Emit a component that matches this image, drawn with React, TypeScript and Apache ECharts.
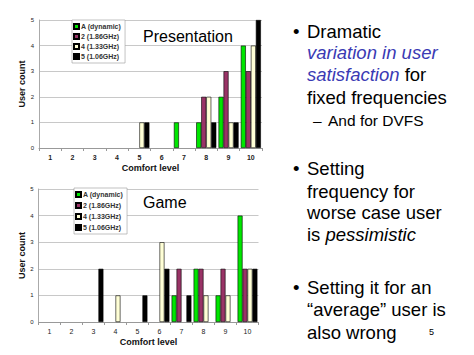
import React, { useEffect, useRef } from "react";
import * as echarts from "echarts";

const categories = ["1", "2", "3", "4", "5", "6", "7", "8", "9", "10"];
const seriesNames = ["A (dynamic)", "2 (1.86GHz)", "4 (1.33GHz)", "5 (1.06GHz)"];
const seriesColors = ["#00e600", "#993366", "#ffffd6", "#000000"];

const presA = [0, 0, 0, 0, 0, 0, 1, 1, 2, 4];
const pres2 = [0, 0, 0, 0, 0, 0, 0, 2, 3, 3];
const pres4 = [0, 0, 0, 0, 1, 0, 0, 2, 1, 4];
const pres5 = [0, 0, 0, 0, 1, 0, 0, 1, 1, 5];

const gameA = [0, 0, 0, 0, 0, 0, 1, 2, 1, 4];
const game2 = [0, 0, 0, 0, 0, 0, 2, 2, 2, 2];
const game4 = [0, 0, 0, 1, 0, 3, 0, 1, 1, 2];
const game5 = [0, 0, 2, 0, 1, 2, 1, 0, 0, 2];

const yMin = 0;
const yMax = 5;
const yInterval = 1;

const FONT = "Liberation Sans, Arial, Helvetica, sans-serif";
const BLUE = "#3a3ab4";

export default function App() {
  const ref = useRef<HTMLDivElement>(null);
  useEffect(() => {
    if (!ref.current) return;
    const chart = echarts.init(ref.current, undefined, { renderer: "svg" });
    const presData = [presA, pres2, pres4, pres5];
    const gameData = [gameA, game2, game4, game5];

    const mkX = (gridIndex: number, bold: boolean) => ({
      type: "category" as const,
      gridIndex,
      data: categories,
      name: "Comfort level",
      nameLocation: "middle" as const,
      nameGap: 15,
      nameTextStyle: { fontSize: 9, fontWeight: "bold", color: "#111", fontFamily: FONT },
      axisLine: { lineStyle: { color: "#999", width: 1 } },
      axisTick: { show: true, length: 3, lineStyle: { color: "#999" } },
      axisLabel: { fontSize: 7, fontWeight: bold ? "bold" : "normal", color: "#222", margin: 6, fontFamily: FONT },
    });
    const mkY = (gridIndex: number) => ({
      type: "value" as const,
      gridIndex,
      min: yMin,
      max: yMax,
      interval: yInterval,
      name: "User count",
      nameLocation: "middle" as const,
      nameGap: 10,
      nameTextStyle: { fontSize: 9, fontWeight: "bold", color: "#111", fontFamily: FONT },
      axisLine: { show: true, lineStyle: { color: "#aaa", width: 1 } },
      axisTick: { show: false },
      splitLine: { lineStyle: { color: "#c8c8c8", width: 1 } },
      axisLabel: { fontSize: 6, color: "#222", margin: 5, fontFamily: FONT },
    });

    const series: any[] = [];
    const addSeries = (arr: number[][], axis: number) => {
      arr.forEach((d, i) => {
        series.push({
          type: "bar",
          name: seriesNames[i],
          xAxisIndex: axis,
          yAxisIndex: axis,
          data: d.map((v) => (v === 0 ? null : v)),
          barGap: "0%",
          barCategoryGap: "10%",
          itemStyle: { color: seriesColors[i], borderColor: "#000", borderWidth: 0.6 },
        });
      });
    };
    addSeries(presData, 0);
    addSeries(gameData, 1);

    const mkLegend = (left: number, top: number, gap: number) => ({
      data: seriesNames,
      orient: "vertical" as const,
      left,
      top,
      itemWidth: 5,
      itemHeight: 5,
      itemGap: gap,
      padding: [3, 4, 3, 1],
      backgroundColor: "#fff",
      borderColor: "#999",
      borderWidth: 0.6,
      icon: "rect",
      selectedMode: false,
      textStyle: { fontSize: 7, fontWeight: "bold", color: "#333", fontFamily: FONT, padding: [0, 0, 0, -3] },
    });

    const T = (text: string, x: number, y: number, opts: any = {}) => ({
      type: "text",
      x,
      y,
      style: {
        text,
        fontSize: opts.fontSize ?? 18.5,
        fontFamily: FONT,
        fontStyle: opts.italic ? "italic" : "normal",
        fill: opts.color ?? "#000",
        verticalAlign: "middle",
        align: "left",
        rich: opts.rich,
      },
      z: 10,
    });

    const bulletX = 293;
    const textX = 307;
    const rich = {
      i: { fontStyle: "italic", fill: BLUE, color: BLUE, fontSize: 18.5, fontFamily: FONT },
      n: { fontSize: 18.5, fontFamily: FONT, color: "#000" },
      p: { fontStyle: "italic", fontSize: 18.5, fontFamily: FONT, color: "#000" },
    };

    chart.setOption({
      animation: false,
      backgroundColor: "#fff",
      grid: [
        { left: 39, top: 20, width: 223, height: 128 },
        { left: 38.5, top: 189, width: 220, height: 133 },
      ],
      xAxis: [mkX(0, true), mkX(1, false)],
      yAxis: [mkY(0), mkY(1)],
      legend: [mkLegend(72, 20, 3), mkLegend(74, 188, 4)],
      series,
      graphic: [
        T("Presentation", 143, 36, { fontSize: 16 }),
        T("Game", 143, 202, { fontSize: 16 }),
        T("•", bulletX, 31),
        T("Dramatic", textX, 31),
        T("variation in user", textX, 52, { italic: true, color: BLUE }),
        T("{i|satisfaction}{n| for}", textX, 74, { rich }),
        T("fixed frequencies", textX, 97),
        T("–", 313, 120, { fontSize: 15.5 }),
        T("And for DVFS", 328, 120, { fontSize: 15.5 }),
        T("•", bulletX, 168),
        T("Setting", textX, 168),
        T("frequency for", textX, 191),
        T("worse case user", textX, 212),
        T("{n|is }{p|pessimistic}", textX, 234, { rich }),
        T("•", bulletX, 287),
        T("Setting it for an", textX, 287),
        T("\u201caverage\u201d user is", textX, 309),
        T("also wrong", textX, 332),
        T("5", 429, 332, { fontSize: 9 }),
      ],
    });
    return () => chart.dispose();
  }, []);
  return (
    <div
      ref={ref}
      style={{ position: "fixed", left: 0, top: 0, width: 474, height: 355, background: "#fff" }}
    />
  );
}
